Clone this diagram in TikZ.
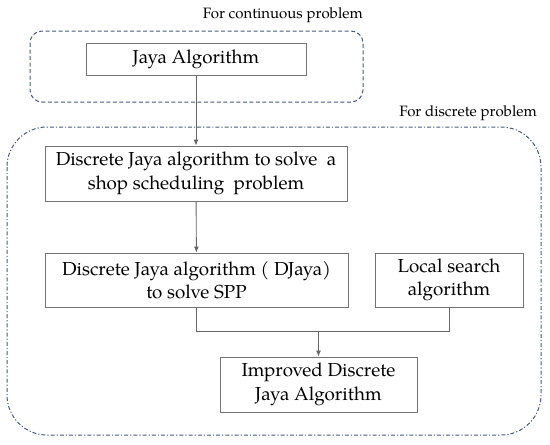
\documentclass[tikz,border=0pt]{standalone}
\usepackage{fontspec}
\setmainfont{TeX Gyre Pagella}
\usetikzlibrary{arrows.meta}
\definecolor{frame}{HTML}{4A5A78}
\begin{document}
\begin{tikzpicture}[x=1pt,y=-1pt,
  box/.style={draw=black!55, line width=0.9pt, fill=white, align=center,
    font=\fontsize{18.8}{23.5}\selectfont, inner sep=0pt},
  conn/.style={draw=black!60, line width=0.9pt},
  arr/.style={conn, -{Latex[length=6pt,width=5pt]}},
  lab/.style={font=\fontsize{15}{17}\selectfont, anchor=east, inner sep=0pt},
  contframe/.style={draw=frame, line width=1pt, dash pattern=on 4pt off 2.5pt, rounded corners=12pt},
  discframe/.style={draw=frame, line width=1pt, dash pattern=on 4pt off 2pt on 1.2pt off 2pt, rounded corners=40pt}]
\useasboundingbox (0,0) rectangle (550,445);
\draw[contframe] (30,31) rectangle (363,102);
\draw[discframe] (7,127) rectangle (541,435);
\node[lab] (lc) at (363,15) {For continuous problem};
\node[lab] (ld) at (537,113) {For discrete problem};
\node[box, minimum width=220pt, minimum height=32pt] (jaya) at (196,59) {Jaya Algorithm};
\node[box, minimum width=302pt, minimum height=55pt] (b2) at (196,173.5) {Discrete Jaya algorithm to solve~ a\\shop scheduling~ problem};
\node[box, minimum width=303pt, minimum height=54pt] (b3) at (196.5,280) {Discrete Jaya algorithm ( DJaya)\\to solve SPP};
\node[box, minimum width=148pt, minimum height=54pt] (b4) at (449,280) {Local search\\algorithm};
\node[box, minimum width=197pt, minimum height=55pt] (b5) at (318.5,384.5) {Improved Discrete\\Jaya Algorithm};
\coordinate (j) at (318.5,331);
\draw[arr] (jaya) -- (b2);
\draw[arr] (b2) -- (b3);
\draw[conn] (b3.south) -- (b3.south |- j) -- (b4.south |- j) -- (b4.south);
\draw[arr] (j) -- (b5);
\end{tikzpicture}
\end{document}
